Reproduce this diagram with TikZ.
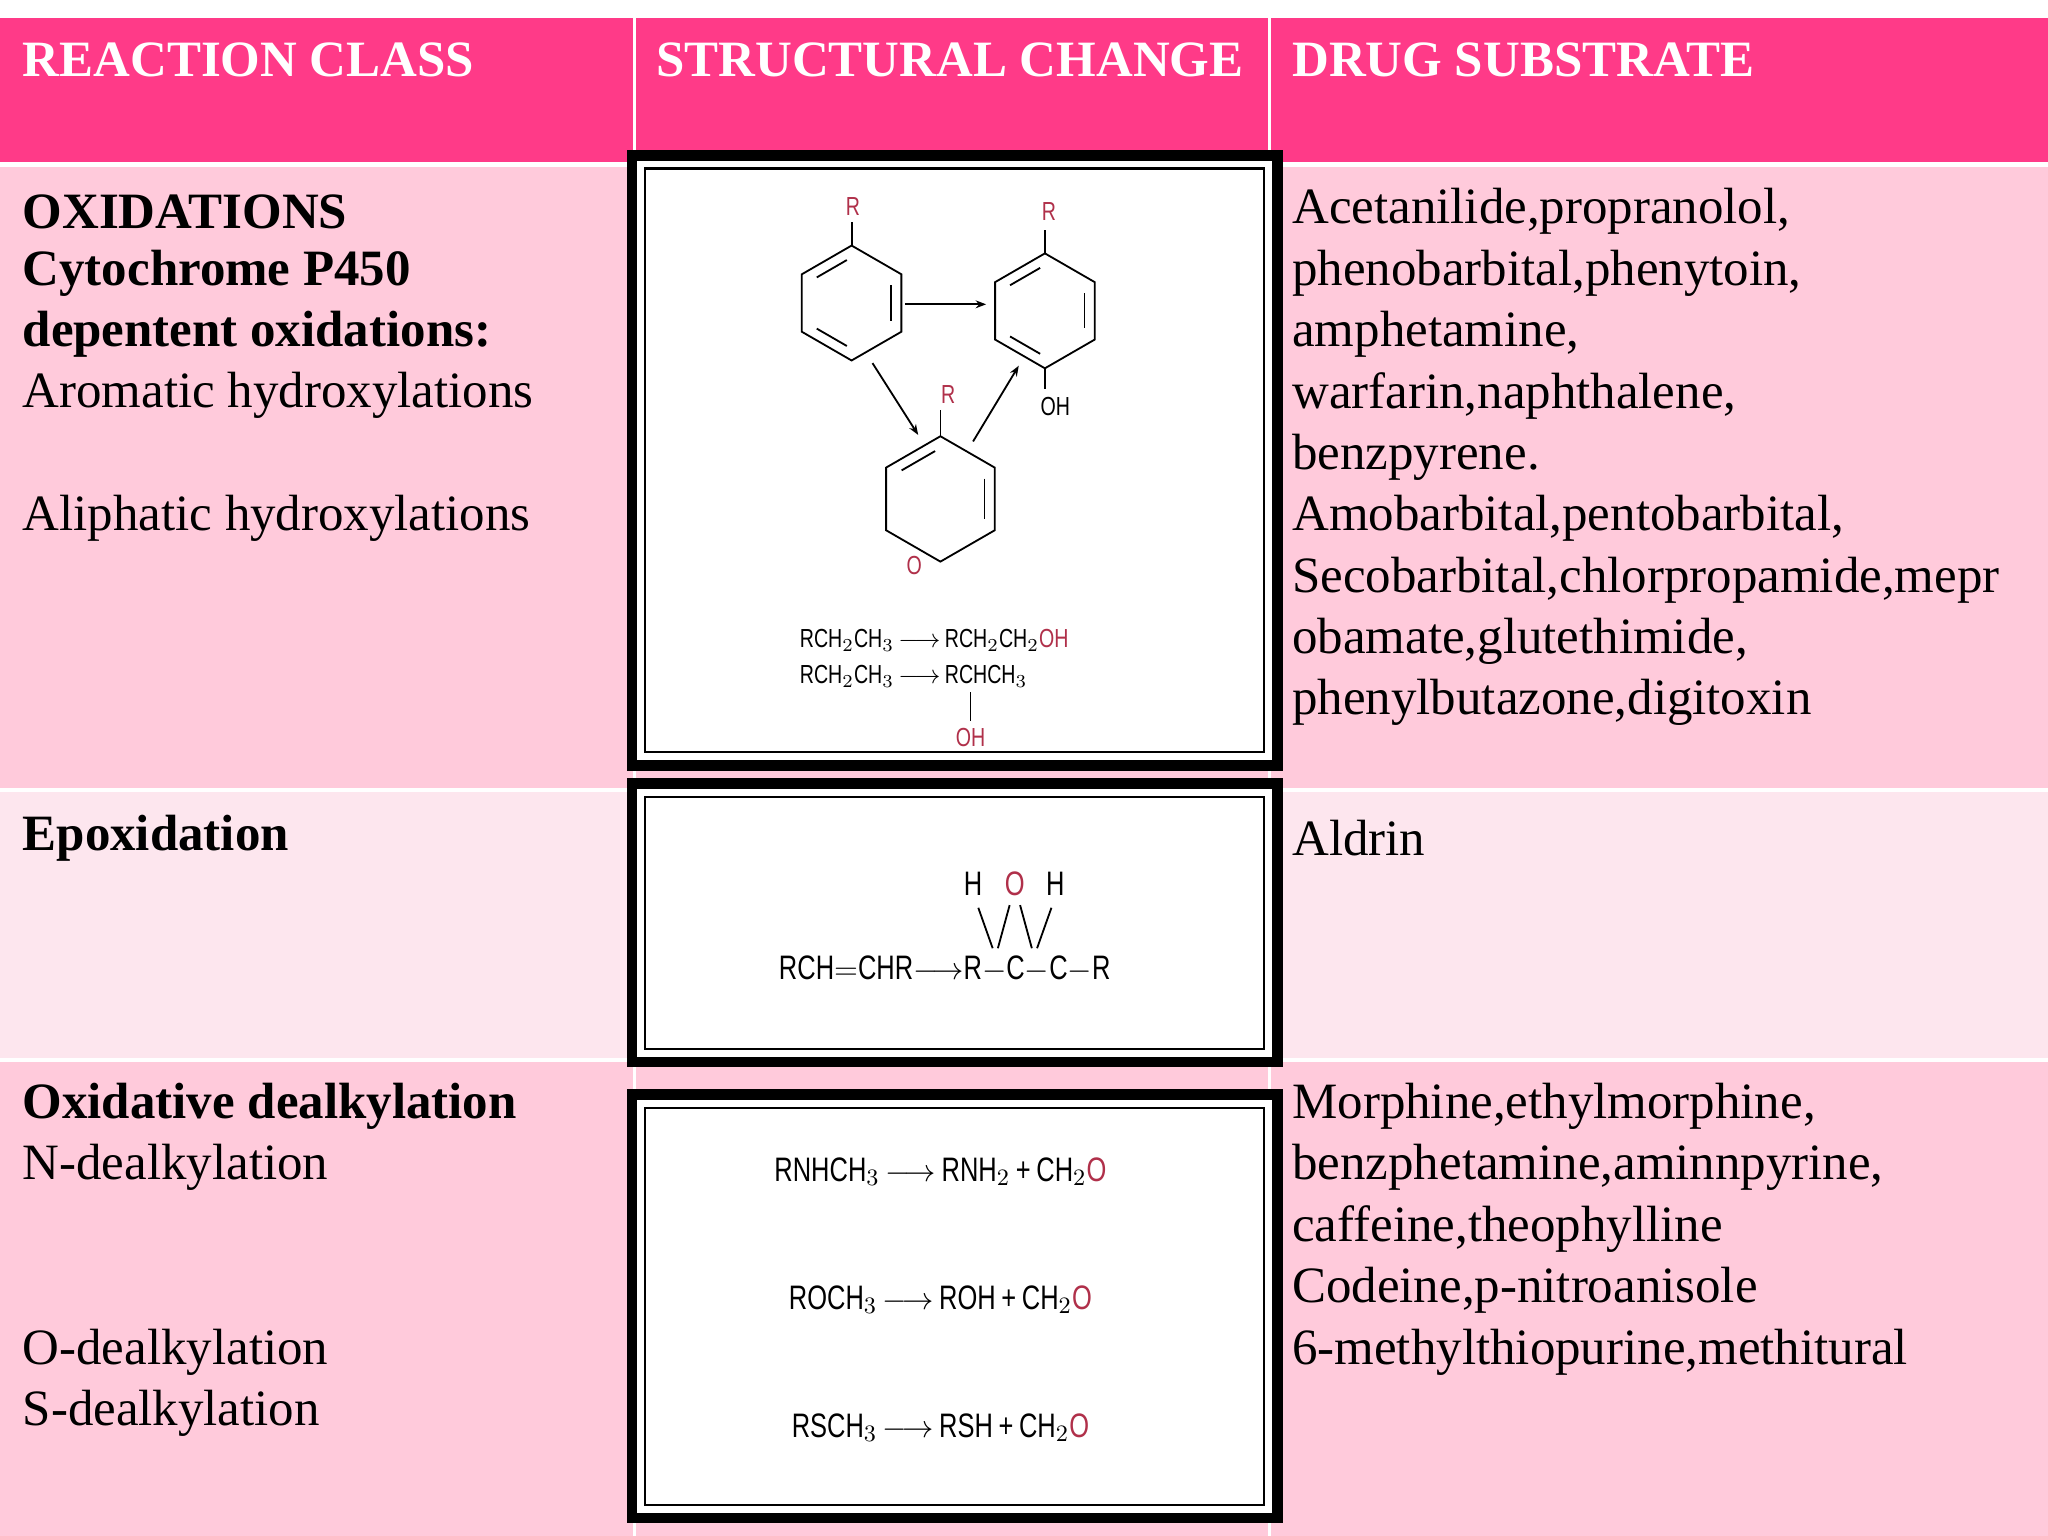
\documentclass[tikz,border=0pt]{standalone}
\usepackage{fontspec}
\setmainfont{Liberation Serif}
\newfontfamily\chemf[FakeStretch=0.75]{Liberation Sans}
\usetikzlibrary{arrows.meta,calc}
\definecolor{hdr}{HTML}{FF3A88}
\definecolor{rowp}{HTML}{FFCADB}
\definecolor{rowl}{HTML}{FDE6EE}
\definecolor{chr}{HTML}{B0304A}
\tikzset{
 body/.style={anchor=west,inner sep=0pt,font=\fontsize{19.5}{23.5}\selectfont},
 hd/.style={anchor=west,inner sep=0pt,text=white,font=\fontsize{19.5}{22}\selectfont\bfseries},
 chem/.style={inner sep=0pt,font=\chemf\fontsize{10}{12}\selectfont},
 chemb/.style={inner sep=0pt,font=\chemf\fontsize{13}{15}\selectfont},
 frame/.style={draw=black,line width=4pt},
 inner/.style={draw=black,line width=0.8pt,fill=white},
 bond/.style={line width=0.7pt},
 arr/.style={line width=0.7pt,-{Stealth[length=4pt]}}
}
\begin{document}
\begin{tikzpicture}[x=0.5pt,y=-0.5pt]
\useasboundingbox (0,0) rectangle (1568,1176);
\fill[white] (0,0) rectangle (1568,1176);
% header
\fill[hdr] (0,14) rectangle (485,124);
\fill[hdr] (487,14) rectangle (971,124);
\fill[hdr] (973,14) rectangle (1568,124);
% rows
\foreach \xa/\xb in {0/485,487/971,973/1568}{
 \fill[rowp] (\xa,128) rectangle (\xb,603);
 \fill[rowl] (\xa,606) rectangle (\xb,810);
 \fill[rowp] (\xa,813) rectangle (\xb,1176);
}
\node[hd] (h1) at (17,46) {REACTION CLASS};
\node[hd] (h2) at (502,46) {STRUCTURAL CHANGE};
\node[hd] (h3) at (989,46) {DRUG SUBSTRATE};
% left column
\node[body,font=\fontsize{19.5}{23.5}\selectfont\bfseries] (l1) at (17,162) {OXIDATIONS};
\node[body,font=\fontsize{19.5}{23.5}\selectfont\bfseries] (l2) at (17,209) {Cytochrome P450};
\node[body,font=\fontsize{19.5}{23.5}\selectfont\bfseries] (l3) at (17,256) {depentent oxidations:};
\node[body] (l4) at (17,303) {Aromatic hydroxylations};
\node[body] (l5) at (17,397) {Aliphatic hydroxylations};
\node[body,font=\fontsize{19.5}{23.5}\selectfont\bfseries] (l6) at (17,642) {Epoxidation};
\node[body,font=\fontsize{19.5}{23.5}\selectfont\bfseries] (l7) at (17,847) {Oxidative dealkylation};
\node[body] (l8) at (17,894) {N-dealkylation};
\node[body] (l9) at (17,1035) {O-dealkylation};
\node[body] (l10) at (17,1082) {S-dealkylation};
% right column
\node[body] (r1) at (989,162) {Acetanilide,propranolol,};
\node[body] (r2) at (989,209) {phenobarbital,phenytoin,};
\node[body] (r3) at (989,256) {amphetamine,};
\node[body] (r4) at (989,303) {warfarin,naphthalene,};
\node[body] (r5) at (989,350) {benzpyrene.};
\node[body] (r6) at (989,397) {Amobarbital,pentobarbital,};
\node[body] (r7) at (989,444) {Secobarbital,chlorpropamide,mepr};
\node[body] (r8) at (989,491) {obamate,glutethimide,};
\node[body] (r9) at (989,538) {phenylbutazone,digitoxin};
\node[body] (r10) at (989,642) {Aldrin};
\node[body] (r11) at (989,847) {Morphine,ethylmorphine,};
\node[body] (r12) at (989,894) {benzphetamine,aminnpyrine,};
\node[body] (r13) at (989,941) {caffeine,theophylline};
\node[body] (r14) at (989,988) {Codeine,p-nitroanisole};
\node[body] (r15) at (989,1035) {6-methylthiopurine,methitural};
% frames
\draw[frame,fill=white] (484,119) rectangle (978,586);
\draw[inner] (494,129) rectangle (968,576);
\draw[frame,fill=white] (484,600) rectangle (978,813);
\draw[inner] (494,610) rectangle (968,803);
\draw[frame,fill=white] (484,838) rectangle (978,1162);
\draw[inner] (494,848) rectangle (968,1152);
% ring 1 (screen: -90 = top)
\begin{scope}[shift={(652,232)}]
\draw[bond] (-90:44) -- (-30:44) -- (30:44) -- (90:44) -- (150:44) -- (210:44) -- cycle;
\draw[bond] ($(-30:35)+(0,4)$) -- ($(30:35)+(0,-4)$);
\draw[bond] ($(-90:35)!0.12!(210:35)$) -- ($(-90:35)!0.88!(210:35)$);
\draw[bond] ($(90:35)!0.12!(150:35)$) -- ($(90:35)!0.88!(150:35)$);
\draw[bond] (0,-44) -- (0,-62);
\end{scope}
\node[chem,text=chr] (R1) at (653,158) {R};
% ring 2
\begin{scope}[shift={(800,238)}]
\draw[bond] (-90:44) -- (-30:44) -- (30:44) -- (90:44) -- (150:44) -- (210:44) -- cycle;
\draw[bond] ($(-30:35)+(0,4)$) -- ($(30:35)+(0,-4)$);
\draw[bond] ($(-90:35)!0.12!(210:35)$) -- ($(-90:35)!0.88!(210:35)$);
\draw[bond] ($(90:35)!0.12!(150:35)$) -- ($(90:35)!0.88!(150:35)$);
\draw[bond] (0,-44) -- (0,-62);
\draw[bond] (0,44) -- (0,60);
\end{scope}
\node[chem,text=chr] (R2) at (803,162) {R};
\node[chem] (OH1) at (808,311) {OH};
% ring 3
\begin{scope}[shift={(720,382)}]
\draw[bond] (-90:48) -- (-30:48) -- (30:48) -- (90:48) -- (150:48) -- (210:48) -- cycle;
\draw[bond] ($(-30:39)+(0,4)$) -- ($(30:39)+(0,-4)$);
\draw[bond] ($(-90:39)!0.12!(210:39)$) -- ($(-90:39)!0.88!(210:39)$);
\draw[bond] (0,-48) -- (0,-68);
\end{scope}
\node[chem,text=chr] (R3) at (726,302) {R};
\node[chem,text=chr] (O1) at (700,433) {O};
% arrows
\coordinate (a1) at (693,233); \coordinate (a2) at (755,233);
\draw[arr] (a1) -- (a2);
\coordinate (b1) at (668,278); \coordinate (b2) at (703,333);
\draw[arr] (b1) -- (b2);
\coordinate (c1) at (745,338); \coordinate (c2) at (780,280);
\draw[arr] (c1) -- (c2);
% aliphatic
\node[chem,anchor=west] (e1) at (612,490) {RCH$_2$CH$_3$\,$\longrightarrow$\,RCH$_2$CH$_2${\color{chr}OH}};
\node[chem,anchor=west] (e2) at (612,518) {RCH$_2$CH$_3$\,$\longrightarrow$\,RCHCH$_3$};
\coordinate (v1) at (743,530); \coordinate (v2) at (743,552);
\draw[bond] (v1) -- (v2);
\node[chem,text=chr] (OH2) at (743,565) {OH};
% epoxidation
\node[chemb] (H1) at (745,677) {H};
\node[chemb,text=chr] (O2) at (777,677) {O};
\node[chemb] (H2) at (808,677) {H};
\draw[bond] (749,695) -- (760,726);
\draw[bond] (773,693) -- (764,726);
\draw[bond] (781,693) -- (790,726);
\draw[bond] (805,695) -- (794,726);
\node[chemb,anchor=west] (ep) at (596,742) {RCH$=$CHR$\longrightarrow$R$-$C$-$C$-$R};
% dealkylation
\node[chemb] (d1) at (720,897) {RNHCH$_3$\,$\longrightarrow$\,RNH$_2$\,+\,CH$_2${\color{chr}O}};
\node[chemb] (d2) at (720,995) {ROCH$_3$\,$\longrightarrow$\,ROH\,+\,CH$_2${\color{chr}O}};
\node[chemb] (d3) at (720,1093) {RSCH$_3$\,$\longrightarrow$\,RSH\,+\,CH$_2${\color{chr}O}};
\end{tikzpicture}
\end{document}
